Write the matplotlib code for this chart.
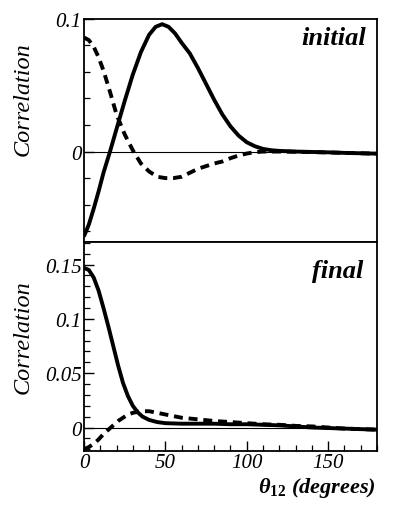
import matplotlib
matplotlib.use("Agg")
import matplotlib.pyplot as plt
from matplotlib.ticker import MultipleLocator, FuncFormatter

# ---- data ----
x_top_solid = [0, 3, 6, 9, 12, 16, 20, 25, 30, 35, 40, 44, 48, 52, 56, 60, 65, 70, 75, 80, 85, 90, 95,
               100, 105, 110, 115, 120, 130, 140, 150, 160, 170, 180]
y_top_solid = [-0.064, -0.055, -0.043, -0.030, -0.016, 0.000, 0.017, 0.038, 0.058, 0.075, 0.088, 0.094,
               0.096, 0.094, 0.089, 0.082, 0.074, 0.063, 0.051, 0.039, 0.028, 0.019, 0.012, 0.007, 0.004,
               0.002, 0.001, 0.0005, 0.0, -0.0003, -0.0006, -0.001, -0.0013, -0.0016]

x_top_dash = [0, 3, 6, 9, 12, 16, 20, 25, 30, 35, 40, 45, 50, 55, 60, 65, 70, 75, 80, 85, 90, 95,
              100, 105, 110, 120, 130, 140, 150, 160, 170, 180]
y_top_dash = [0.086, 0.084, 0.079, 0.071, 0.061, 0.045, 0.028, 0.013, 0.001, -0.009, -0.015, -0.019,
              -0.020, -0.020, -0.019, -0.016, -0.013, -0.011, -0.009, -0.0075, -0.005, -0.003, -0.0015,
              -0.0005, 0.0, 0.0, -0.0002, -0.0004, -0.0007, -0.001, -0.0013, -0.0016]

x_bot_solid = [0, 3, 6, 9, 12, 15, 18, 21, 24, 27, 30, 33, 36, 40, 45, 50, 60, 70, 80, 90, 100, 110,
               120, 130, 140, 150, 160, 170, 180]
y_bot_solid = [0.147, 0.145, 0.138, 0.126, 0.110, 0.093, 0.075, 0.057, 0.041, 0.029, 0.020, 0.014, 0.010,
               0.007, 0.005, 0.004, 0.0035, 0.0035, 0.0035, 0.003, 0.003, 0.0025, 0.002, 0.001, 0.0,
               -0.0005, -0.001, -0.0015, -0.002]

x_bot_dash = [0, 3, 6, 9, 12, 15, 18, 21, 24, 27, 30, 35, 40, 45, 50, 55, 60, 70, 80, 90, 100, 110,
              120, 130, 140, 150, 160, 170, 180]
y_bot_dash = [-0.020, -0.018, -0.015, -0.011, -0.006, -0.002, 0.002, 0.006, 0.009, 0.012, 0.0135, 0.015,
              0.015, 0.0135, 0.012, 0.0105, 0.009, 0.0075, 0.006, 0.005, 0.004, 0.003, 0.0025, 0.0015,
              0.001, 0.0, -0.001, -0.0015, -0.002]

top_label = "initial"
bot_label = "final"
y_label = "Correlation"
x_label = r"$\mathregular{\theta}_{\mathit{12}}$ (degrees)"

plt.rcParams['font.family'] = ['Liberation Serif', 'DejaVu Serif']
plt.rcParams['mathtext.fontset'] = 'custom'
plt.rcParams['mathtext.rm'] = 'Liberation Serif:bold'
plt.rcParams['mathtext.it'] = 'Liberation Serif:italic:bold'

W, H = 396, 510
fig = plt.figure(figsize=(W / 100, H / 100), dpi=100)
L, R = 0.212, 0.952
ax1 = fig.add_axes([L, 0.524, R - L, 0.961 - 0.524])
ax2 = fig.add_axes([L, 0.114, R - L, 0.524 - 0.114])

fmt = FuncFormatter(lambda v, p: "%g" % round(v, 4))
lw = 2.8
dash = (0, (2.3, 1.5))

for ax in (ax1, ax2):
    ax.axhline(0, color='black', lw=0.8, zorder=1)
    ax.set_xlim(0, 180)
    for s in ax.spines.values():
        s.set_linewidth(1.3)
    ax.tick_params(which='both', direction='in', top=False, right=False)
    ax.tick_params(which='major', length=7, width=1.0, labelsize=15, pad=1.5)
    ax.tick_params(which='minor', length=4, width=0.9)
    ax.yaxis.set_major_formatter(fmt)

ax1.plot(x_top_solid, y_top_solid, color='black', lw=lw, solid_capstyle='butt', zorder=3)
ax1.plot(x_top_dash, y_top_dash, color='black', lw=lw, linestyle=dash, zorder=3)
ax1.set_ylim(-0.068, 0.1)
ax1.yaxis.set_major_locator(MultipleLocator(0.1))
ax1.yaxis.set_minor_locator(MultipleLocator(0.02))
ax1.set_xticks([])
ax1.tick_params(axis='x', which='both', bottom=False, labelbottom=False)
fig.text(366 / W, 1 - 27 / H, top_label, ha='right', va='top',
         fontsize=19, fontweight='bold', style='italic')

ax2.plot(x_bot_solid, y_bot_solid, color='black', lw=lw, solid_capstyle='butt', zorder=3)
ax2.plot(x_bot_dash, y_bot_dash, color='black', lw=lw, linestyle=dash, zorder=3)
ax2.set_ylim(-0.0215, 0.171)
ax2.yaxis.set_major_locator(MultipleLocator(0.05))
ax2.yaxis.set_minor_locator(MultipleLocator(0.01))
ax2.xaxis.set_major_locator(MultipleLocator(50))
ax2.xaxis.set_minor_locator(MultipleLocator(10))
ax2.xaxis.set_major_formatter(fmt)
fig.text(363 / W, 1 - 260 / H, bot_label, ha='right', va='top',
         fontsize=19, fontweight='bold', style='italic')

for ax in (ax1, ax2):
    for t in ax.get_yticklabels() + ax.get_xticklabels():
        t.set_style('italic')

fig.text(23 / W, 1 - 99 / H, y_label, rotation=90, ha='center', va='center',
         fontsize=17.5, style='italic')
fig.text(23 / W, 1 - 337 / H, y_label, rotation=90, ha='center', va='center',
         fontsize=17.5, style='italic')

fig.text(376 / W, 1 - 488 / H, x_label, ha='right', va='center', fontsize=16,
         style='italic', fontweight='bold')

fig.savefig("out.png", dpi=100)
